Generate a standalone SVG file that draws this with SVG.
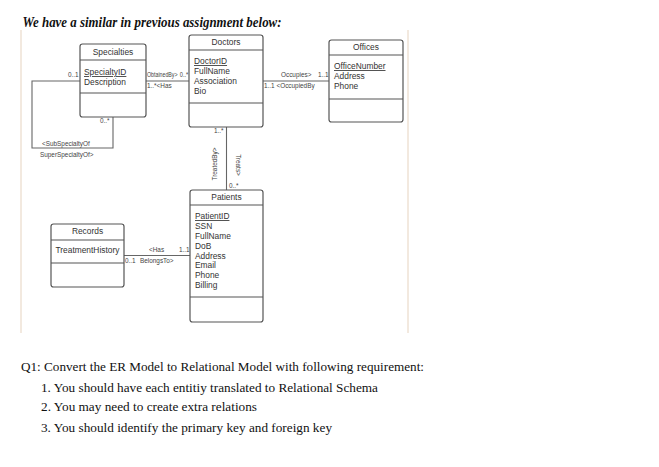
<svg xmlns="http://www.w3.org/2000/svg" width="659" height="467" viewBox="0 0 659 467">
<style>
.box{fill:#fff;stroke:#555;stroke-width:1.2}
.sep{stroke:#555;stroke-width:1.2}
.con{fill:none;stroke:#666;stroke-width:1.1}
.t{font-family:"Liberation Sans",Arial,sans-serif;font-size:8.4px;fill:#333}
.c{text-anchor:middle}
.pk{text-decoration:underline}
.lbl{font-family:"Liberation Sans",Arial,sans-serif;font-size:6.4px;fill:#444}
.frame{stroke:#e6d3bf;stroke-width:1}
.q{font-family:"Liberation Serif","Times New Roman",serif;font-size:13.5px;fill:#111}
</style>
<rect width="659" height="467" fill="#fff"/>
<text x="22.5" y="27" font-family="'Liberation Serif','Times New Roman',serif" font-size="14" font-weight="bold" font-style="italic" fill="#111" textLength="259" lengthAdjust="spacingAndGlyphs">We have a similar in previous assignment below:</text>
<line class="frame" x1="21" y1="30" x2="21" y2="333"/>
<line class="frame" x1="408" y1="30" x2="408" y2="333"/>

<g id="connectors">
<line class="con" x1="146" y1="81" x2="189" y2="81"/>
<path class="con" d="M80 81 H32 V148 H113 V117"/>
<line class="con" x1="263" y1="81" x2="329" y2="81"/>
<line class="con" x1="226.5" y1="127" x2="226.5" y2="190"/>
<line class="con" x1="124" y1="255.5" x2="190" y2="255.5"/>
<text class="lbl" x="68" y="76.5">0..1</text>
<text class="lbl" x="100" y="122.5">0..*</text>
<text class="lbl" x="42" y="145.5">&lt;SubSpecialtyOf</text>
<text class="lbl" x="40" y="156.5">SuperSpecialtyOf&gt;</text>
<text class="lbl" x="147" y="76.5" textLength="30.5" lengthAdjust="spacingAndGlyphs">ObtainedBy&gt;</text>
<text class="lbl" x="179.8" y="76.5" textLength="8.5" lengthAdjust="spacingAndGlyphs">0..*</text>
<text class="lbl" x="147" y="87.5">1..*&lt;Has</text>
<text class="lbl" x="281" y="76.5">Occupies&gt;</text>
<text class="lbl" x="318" y="76.5">1..1</text>
<text class="lbl" x="264" y="87.5">1..1 &lt;OccupiedBy</text>
<text class="lbl" x="214" y="132.5">1..*</text>
<text class="lbl" x="229" y="187.5">0..*</text>
<text class="lbl c" transform="translate(216.5,164) rotate(-90)">TreatedBy&gt;</text>
<text class="lbl c" transform="translate(236,165) rotate(90)">Treats&gt;</text>
<text class="lbl" x="149" y="251.5">&lt;Has</text>
<text class="lbl" x="179" y="251.5">1..1</text>
<text class="lbl" x="125" y="262.5">0..1</text>
<text class="lbl" x="140" y="262.5">BelongsTo&gt;</text>
</g>

<g id="specialties">
<rect class="box" x="80" y="44" width="66" height="73" rx="2.5"/>
<line class="sep" x1="80" y1="60" x2="146" y2="60"/>
<line class="sep" x1="80" y1="93" x2="146" y2="93"/>
<text class="t c" x="113" y="55">Specialties</text>
<text class="t pk" x="84" y="75">SpecialtyID</text>
<text class="t" x="84" y="84.5">Description</text>
</g>

<g id="doctors">
<rect class="box" x="189" y="35" width="74" height="92" rx="2.5"/>
<line class="sep" x1="189" y1="50" x2="263" y2="50"/>
<line class="sep" x1="189" y1="103" x2="263" y2="103"/>
<text class="t c" x="226" y="44.5">Doctors</text>
<text class="t pk" x="194" y="64">DoctorID</text>
<text class="t" x="194" y="74">FullName</text>
<text class="t" x="194" y="84">Association</text>
<text class="t" x="194" y="93.5">Bio</text>
</g>

<g id="offices">
<rect class="box" x="329" y="40" width="74" height="82" rx="2.5"/>
<line class="sep" x1="329" y1="55" x2="403" y2="55"/>
<line class="sep" x1="329" y1="99" x2="403" y2="99"/>
<text class="t c" x="366" y="49.5">Offices</text>
<text class="t pk" x="334" y="69">OfficeNumber</text>
<text class="t" x="334" y="79">Address</text>
<text class="t" x="334" y="88.5">Phone</text>
</g>

<g id="patients">
<rect class="box" x="190" y="190" width="73" height="132" rx="2.5"/>
<line class="sep" x1="190" y1="205" x2="263" y2="205"/>
<line class="sep" x1="190" y1="297" x2="263" y2="297"/>
<text class="t c" x="226.5" y="199.5">Patients</text>
<text class="t pk" x="195" y="219">PatientID</text>
<text class="t" x="195" y="228.5">SSN</text>
<text class="t" x="195" y="238.5">FullName</text>
<text class="t" x="195" y="248.5">DoB</text>
<text class="t" x="195" y="258.5">Address</text>
<text class="t" x="195" y="268">Email</text>
<text class="t" x="195" y="277.8">Phone</text>
<text class="t" x="195" y="287.5">Billing</text>
</g>

<g id="records">
<rect class="box" x="51" y="224" width="73" height="63" rx="2.5"/>
<line class="sep" x1="51" y1="240" x2="124" y2="240"/>
<line class="sep" x1="51" y1="263" x2="124" y2="263"/>
<text class="t c" x="87.5" y="233.5">Records</text>
<text class="t" x="55.5" y="253">TreatmentHistory</text>
</g>

<g id="question">
<text class="q" x="21" y="371" textLength="403" lengthAdjust="spacingAndGlyphs">Q1: Convert the ER Model to Relational Model with following requirement:</text>
<text class="q" x="41" y="391.5" textLength="337" lengthAdjust="spacingAndGlyphs">1. You should have each entitiy translated to Relational Schema</text>
<text class="q" x="41" y="411" textLength="216" lengthAdjust="spacingAndGlyphs">2. You may need to create extra relations</text>
<text class="q" x="41" y="431.5" textLength="291" lengthAdjust="spacingAndGlyphs">3. You should identify the primary key and foreign key</text>
</g>
</svg>
